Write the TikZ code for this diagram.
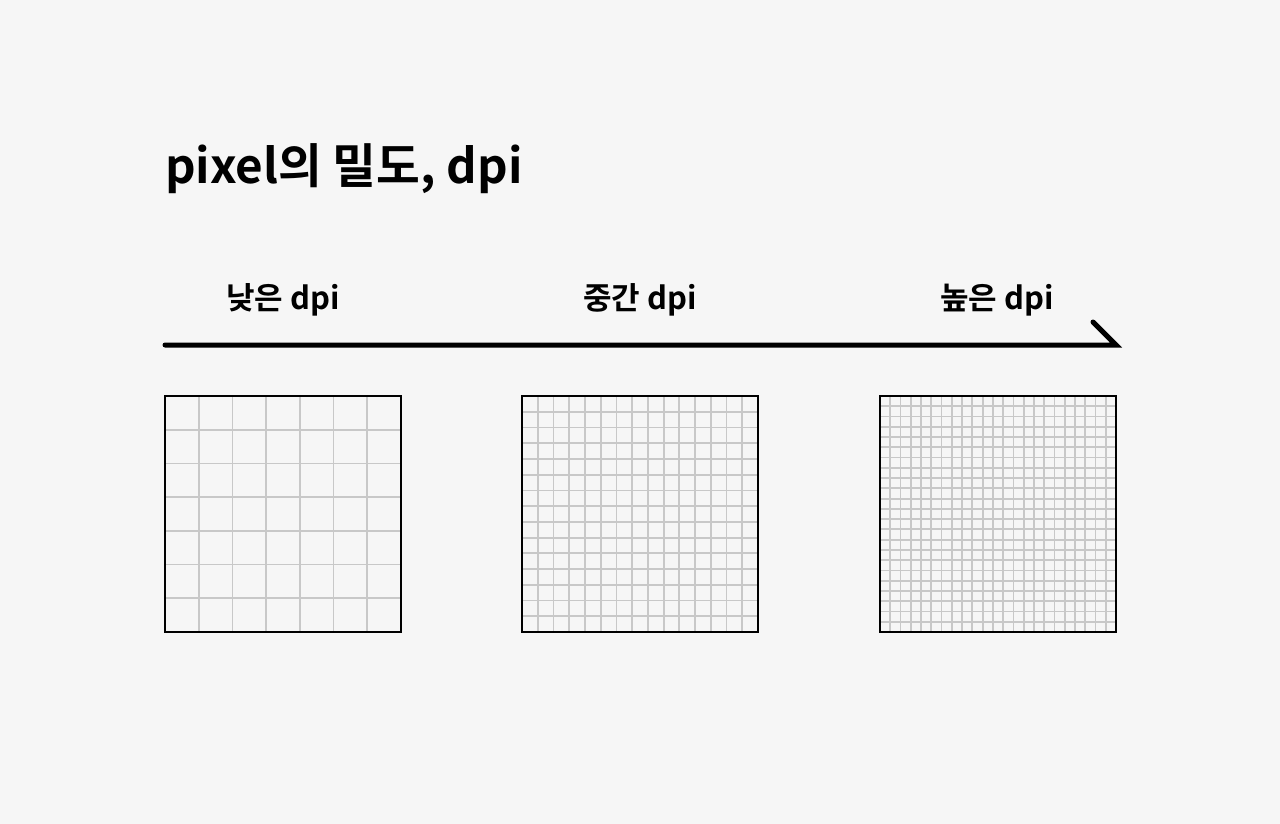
\documentclass[tikz,border=0pt]{standalone}
\usepackage{fontspec}
\newfontfamily\kr{Noto Sans CJK KR}[BoldFont={* Bold}]
\definecolor{bg}{HTML}{F6F6F6}
\definecolor{gridc}{HTML}{C8C8C8}
\begin{document}
\begin{tikzpicture}[x=1pt,y=-1pt,
  title/.style={anchor=base west,inner sep=0pt,font=\kr\bfseries\fontsize{47.6}{52}\selectfont},
  lbl/.style={inner sep=0pt,font=\kr\bfseries\fontsize{31}{35}\selectfont},
  frame/.style={draw=black,line width=2pt},
  gridline/.style={draw=gridc,line width=1.8pt},
  axis/.style={line width=5pt,line cap=round,line join=miter}]
\fill[bg] (0,0) rectangle (1280,824);
\useasboundingbox (0,0) rectangle (1280,824);
\node[title] (t) at (165,183) {pixel의 밀도, dpi};
\node[lbl] (l1) at (283,300) {낮은 dpi};
\node[lbl] (l2) at (640,300) {중간 dpi};
\node[lbl] (l3) at (997,300) {높은 dpi};
\coordinate (a0) at (165,345);
\coordinate (a1) at (1116,345);
\coordinate (a2) at (1093,322);
\draw[axis] (a0) -- (a1) -- (a2);
% grids
\foreach \x/\n in {165/7,522/15,880/23}{
  \pgfmathsetmacro{\s}{236/\n}
  \foreach \i in {1,...,\numexpr\n-1\relax}{
    \draw[gridline] (\x+\i*\s,396) -- (\x+\i*\s,632);
    \draw[gridline] (\x,396+\i*\s) -- (\x+236,396+\i*\s);
  }
  \draw[frame] (\x,396) rectangle (\x+236,632);
}
\end{tikzpicture}
\end{document}
